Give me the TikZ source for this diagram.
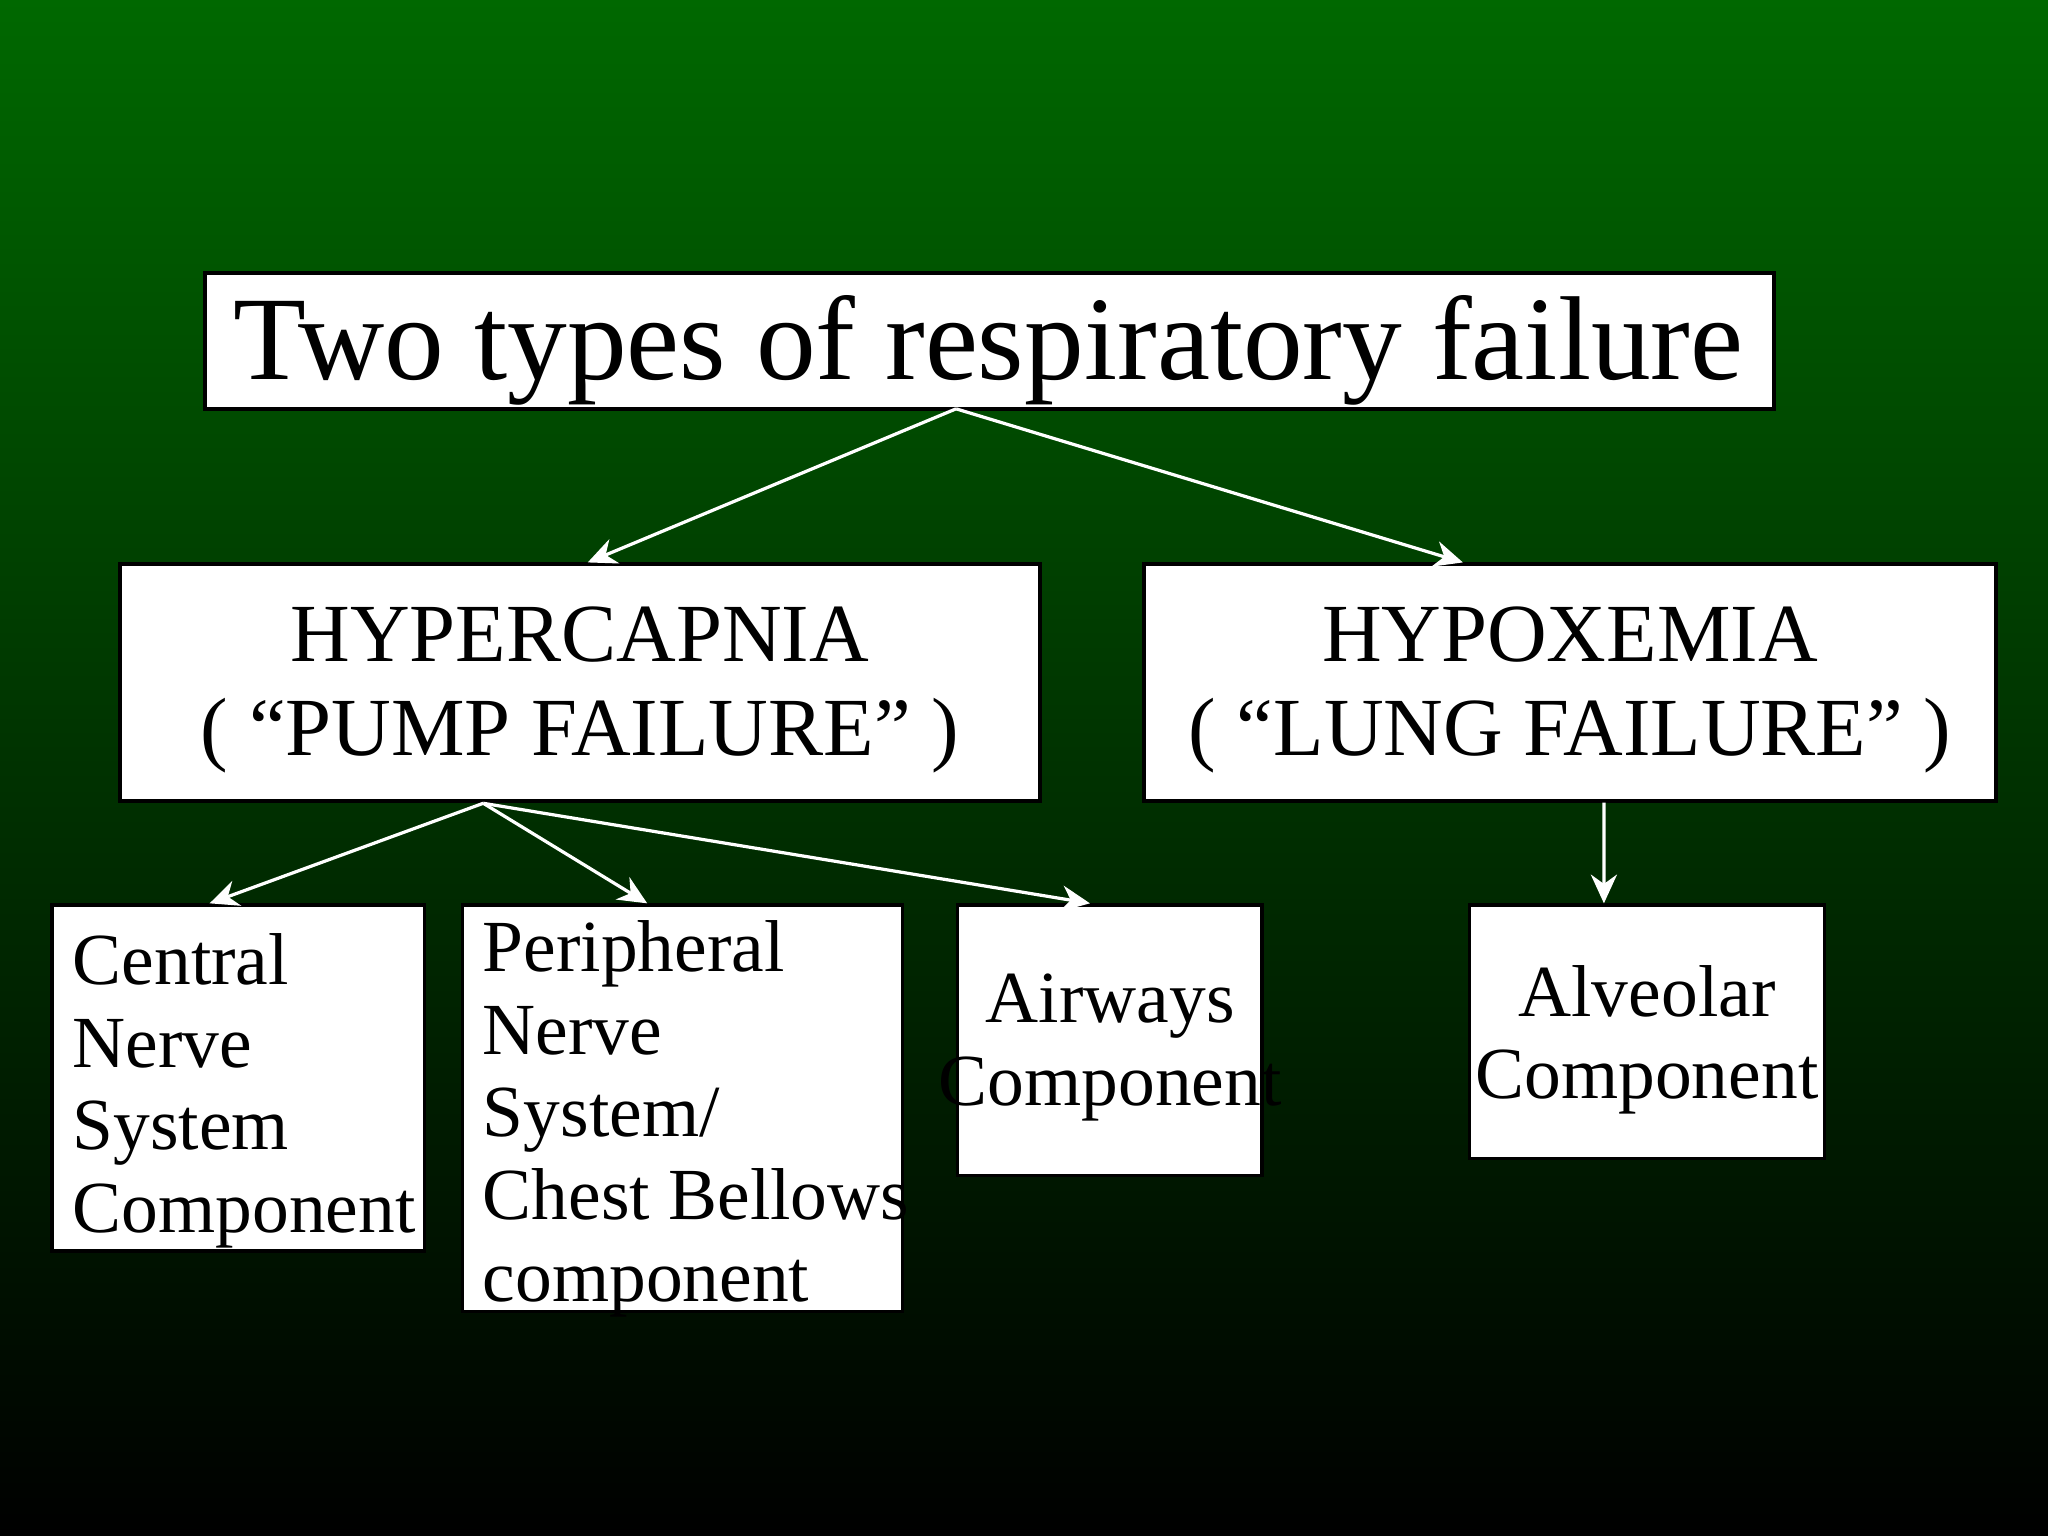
\documentclass[tikz,border=0pt]{standalone}
\usepackage{fontspec}
\setmainfont{Liberation Serif}
\usetikzlibrary{arrows.meta}
\tikzset{box/.style={draw=black,fill=white,line width=0.8pt,inner sep=0pt},
 conn/.style={draw=white,line width=0.7pt,-{Stealth[length=2.2mm,width=2mm]}},
 lbl/.style={inner sep=0pt,text=black}}
\begin{document}
\begin{tikzpicture}[x=0.1mm,y=-0.1mm]
\shade[top color={rgb,255:red,0;green,104;blue,0},bottom color=black,middle color={rgb,255:red,0;green,50;blue,0}] (0,0) rectangle (1568,1176);
\useasboundingbox (0,0) rectangle (1568,1176);
\node[box,minimum width=120.1mm,minimum height=10.4mm] (title) at (757.5,261) {};
\node[lbl,font=\fontsize{26}{30}\selectfont] at (757,268) {Two types of respiratory failure};
\node[box,minimum width=70.4mm,minimum height=18.1mm] (hyper) at (444,522.5) {};
\node[lbl,align=center,font=\fontsize{18}{20.5}\selectfont] at (444,528) {HYPERCAPNIA\\( “PUMP FAILURE” )};
\node[box,minimum width=65.2mm,minimum height=18.1mm] (hypox) at (1202,522.5) {};
\node[lbl,align=center,font=\fontsize{18}{20.5}\selectfont] at (1202,528) {HYPOXEMIA\\( “LUNG FAILURE” )};
\node[box,minimum width=28.5mm,minimum height=26.5mm] (cns) at (182.5,825.5) {};
\node[lbl,anchor=north west,align=left,font=\fontsize{16}{18}\selectfont] at (55,714) {Central\\Nerve\\System\\Component};
\node[box,minimum width=33.7mm,minimum height=31.1mm] (pns) at (522.5,848.5) {};
\node[lbl,anchor=north west,align=left,font=\fontsize{16}{18}\selectfont] at (369,704) {Peripheral\\Nerve\\System/\\Chest Bellows\\component};
\node[box,minimum width=23.3mm,minimum height=20.7mm] (air) at (849.5,796.5) {};
\node[lbl,align=center,font=\fontsize{16}{18}\selectfont] at (850,802) {Airways\\Component};
\node[box,minimum width=27.2mm,minimum height=19.4mm] (alv) at (1261,790) {};
\node[lbl,align=center,font=\fontsize{16}{18}\selectfont] at (1261,796) {Alveolar\\Component};
\coordinate (t) at (732,313);
\coordinate (h) at (370,615);
\draw[conn] (t) -- ([xshift=0.6mm]hyper.north);
\draw[conn] (t) -- ([xshift=-8.2mm]hypox.north);
\draw[conn] (h) -- ([xshift=-2.2mm]cns.north);
\draw[conn] (h) -- ([xshift=-2.7mm]pns.north);
\draw[conn] (h) -- ([xshift=-1.5mm]air.north);
\draw[conn] ([xshift=2.6mm]hypox.south) -- ([xshift=-3.3mm]alv.north);
\end{tikzpicture}
\end{document}
